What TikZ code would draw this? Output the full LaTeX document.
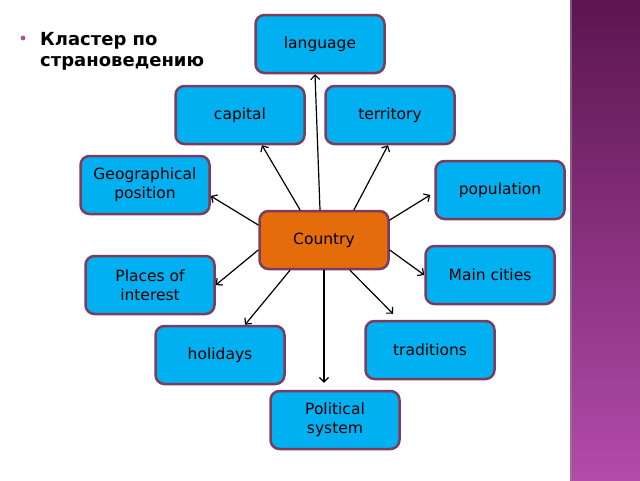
\documentclass[tikz,border=0pt]{standalone}
\usepackage{fontspec}
\setmainfont{DejaVu Sans}
\usetikzlibrary{arrows.meta}
\definecolor{leafcyan}{HTML}{00B0F0}
\definecolor{leafedge}{HTML}{7D3B5E}
\definecolor{huborange}{HTML}{E46C0A}
\definecolor{striptop}{HTML}{5C1550}
\definecolor{stripbot}{HTML}{B24BAA}
\definecolor{bulletpink}{HTML}{B04AA8}
\tikzset{
 leaf/.style={draw=leafedge,line width=2.5pt,fill=leafcyan,rounded corners=9pt,
  minimum width=129pt,minimum height=58pt,align=center,inner sep=2pt,
  font=\fontsize{15.5}{19}\selectfont},
 hub/.style={leaf,fill=huborange},
 link/.style={-{Straight Barb[length=4.5pt,width=9pt]},line width=1.2pt,black}
}
\begin{document}
\begin{tikzpicture}[x=1pt,y=-1pt,line join=round,line cap=round]
 \useasboundingbox (0,0) rectangle (640,480);
 % side strip
 \shade[top color=striptop,bottom color=stripbot] (570,0) rectangle (640,480);
 \draw[black!45,opacity=.6,line width=1.5pt] (570.75,0)--(570.75,480);
 % title
 \fill[bulletpink] (23,38) circle (2.4);
 \node[anchor=north west,inner sep=0,align=left,
  font=\bfseries\fontsize{18}{21.5}\selectfont] (title) at (40,32)
  {Кластер по\\страноведению};
 % nodes
 \node[hub] (country) at (324,240) {Country};
 \node[leaf] (language) at (320,44) {language};
 \node[leaf] (capital) at (240,115) {capital};
 \node[leaf] (territory) at (390,115) {territory};
 \node[leaf] (geo) at (145,185) {Geographical\\position};
 \node[leaf] (population) at (500,190) {population};
 \node[leaf] (places) at (150,285) {Places of\\interest};
 \node[leaf] (cities) at (490,275) {Main cities};
 \node[leaf] (traditions) at (430,350) {traditions};
 \node[leaf] (holidays) at (220,355) {holidays};
 \node[leaf] (politics) at (335,420) {Political\\system};
 % links
 \draw[link] ([xshift=-4pt]country.north) -- ([xshift=-5pt]language.south);
 \draw[link] ([xshift=-24pt]country.north) -- ([xshift=22pt]capital.south);
 \draw[link] ([xshift=30pt]country.north) -- ([xshift=-2pt]territory.south);
 \draw[link] ([yshift=15pt]country.west) -- ([yshift=-11pt]geo.east);
 \draw[link] ([yshift=-10pt]country.west) -- (places.east);
 \draw[link] ([xshift=-34pt]country.south) -- ([xshift=25pt]holidays.north);
 \draw[link,shorten >=7pt] (country.south) -- (country.south |- politics.north);
 \draw[link] ([xshift=26pt]country.south) -- ([xshift=-37pt,yshift=6pt]traditions.north);
 \draw[link] ([yshift=20pt]country.east) -- ([xshift=-4pt,yshift=-5pt]population.west);
 \draw[link] ([yshift=-10pt]country.east) -- (cities.west);
\end{tikzpicture}
\end{document}
